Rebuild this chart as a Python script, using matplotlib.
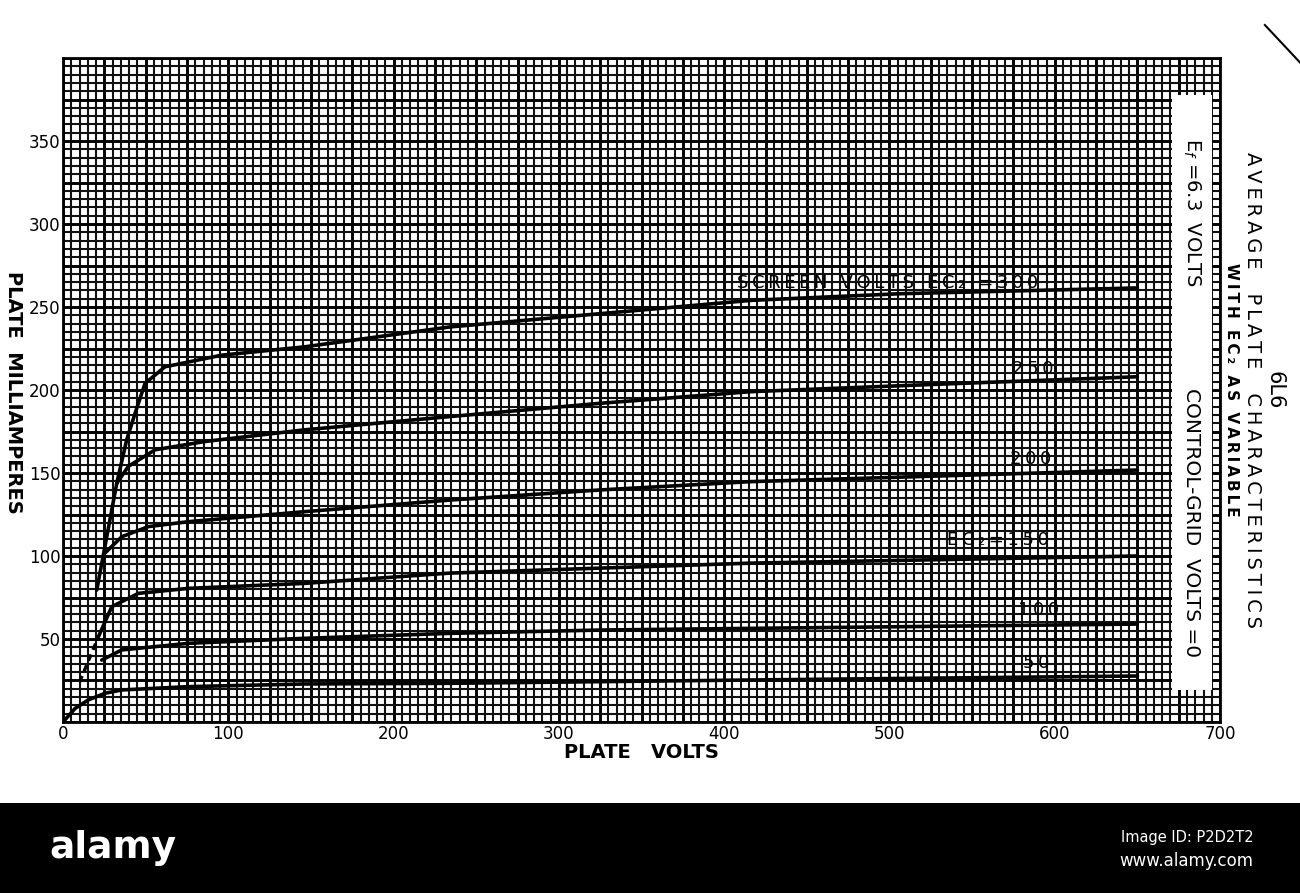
import matplotlib
matplotlib.use("Agg")
import matplotlib.pyplot as plt
from matplotlib.ticker import MultipleLocator, FuncFormatter
from matplotlib.patches import Rectangle
from matplotlib.lines import Line2D

# plate volts / plate mA, one pair of arrays per screen voltage
v_300 = [20.4, 32.5, 38.5, 43.6, 49.6, 61.7, 96, 146, 234, 325, 416, 506, 650]
i_300 = [79.5, 143.8, 170, 186, 204, 214, 221, 226, 238, 246, 254, 258, 261.5]

v_250 = [32.5, 39.5, 55.7, 86, 146, 234, 325, 416, 530, 650]
i_250 = [143.8, 154, 164, 169, 176, 184, 192, 199, 203.5, 208]

v_200 = [25.4, 35.5, 51.6, 76, 146, 234, 325, 416, 650]
i_200 = [101.8, 111.6, 117.7, 120.7, 126.7, 133.7, 139.8, 144.8, 151.8]

v_150 = [21.4, 29.5, 45.6, 75.8, 146, 234, 325, 416, 650]
i_150 = [51.4, 69.5, 77.5, 80.5, 83.5, 89.7, 92.7, 95.7, 100]
v_150_dash = [10, 21.4]
i_150_dash = [24, 51.4]

v_100 = [23.4, 35.5, 75.8, 146, 234, 325, 416, 650]
i_100 = [37.3, 43.4, 47.4, 50.4, 53.4, 55.4, 56.4, 59]

v_50 = [0, 7.3, 15.3, 25.4, 35.5, 75.8, 146, 234, 416, 650]
i_50 = [0, 8.2, 13.3, 17.3, 19.3, 21.3, 22.9, 23.3, 25.3, 27.7]

curves = [(v_300, i_300), (v_250, i_250), (v_200, i_200),
          (v_150, i_150), (v_100, i_100), (v_50, i_50)]

curve_labels = ["SCREEN VOLTS EC₂ =300", "250", "200", "EC₂=150", "100", "50"]
label_pos = [(408, 259), (574, 207), (573, 153), (535, 104), (578, 62), (581, 30)]

font = "DejaVu Sans"


def spaced(s):
    # hand lettering on the sheet is loosely spaced
    return "\u2009".join(s)


fig = plt.figure(figsize=(13, 8.93), dpi=100)
ax = fig.add_axes([0.0485, 0.1915, 0.89, 0.7435])

ax.set_xlim(0, 700)
ax.set_ylim(0, 400)

ax.xaxis.set_major_locator(MultipleLocator(25))
ax.xaxis.set_minor_locator(MultipleLocator(5))
ax.yaxis.set_major_locator(MultipleLocator(25))
ax.yaxis.set_minor_locator(MultipleLocator(5))
ax.xaxis.set_major_formatter(FuncFormatter(lambda v, p: f"{int(v)}" if v % 100 == 0 else ""))
ax.yaxis.set_major_formatter(FuncFormatter(
    lambda v, p: f"{int(v)}" if (v % 50 == 0 and 0 < v < 400) else ""))
ax.tick_params(which="both", length=0)
ax.tick_params(axis="both", which="major", labelsize=12, pad=2)
for t in ax.get_xticklabels() + ax.get_yticklabels():
    t.set_fontfamily(font)

ax.grid(which="minor", color="#111111", lw=1.5)
ax.grid(which="major", color="black", lw=2.1)
ax.set_axisbelow(True)
for s in ax.spines.values():
    s.set_linewidth(2)

# white panel inside the chart
ax.add_patch(Rectangle((671, 19), 24, 359, facecolor="white", edgecolor="none", zorder=3))
ax.text(683, 307, "E$_f$ =6.3  VOLTS", rotation=270, ha="center", va="center",
        fontsize=14, family=font, zorder=4)
ax.text(683, 120, "CONTROL-GRID  VOLTS =0", rotation=270, ha="center", va="center",
        fontsize=14.5, family=font, zorder=4)

for (v, i) in curves:
    ax.plot(v, i, color="black", lw=2.6, zorder=5, solid_capstyle="round")
ax.plot(v_150_dash, i_150_dash, color="black", lw=2.4, ls=(0, (2, 1.5)), zorder=5)

for txt, (x, y) in zip(curve_labels, label_pos):
    ax.text(x, y, spaced(txt), fontsize=13, family=font, ha="left", va="bottom", zorder=6)

ax.set_xlabel("PLATE   VOLTS", fontsize=14, fontweight="bold", family=font, labelpad=0)
fig.text(0.010, 0.561, "PLATE  MILLIAMPERES", rotation=270, ha="center", va="center",
         fontsize=14, fontweight="bold", family=font)

fig.text(0.9805, 0.563, "6L6", rotation=270, ha="center", va="center",
         fontsize=15, family=font)
fig.text(0.9632, 0.563, spaced("AVERAGE  PLATE  CHARACTERISTICS"), rotation=270,
         ha="center", va="center", fontsize=14, family=font)
fig.text(0.9472, 0.563, spaced("WITH EC₂ AS VARIABLE"), rotation=270,
         ha="center", va="center", fontsize=11, fontweight="bold", family=font)

fig.add_artist(Line2D([0.973, 1.0], [0.972, 0.93], color="black", lw=1.5))

# stock-photo footer band
fig.add_artist(Rectangle((0, 0), 1, 0.1008, transform=fig.transFigure,
                         facecolor="black", edgecolor="none"))
fig.text(0.038, 0.05, "alamy", color="white", fontsize=27, fontweight="bold",
         family=font, ha="left", va="center")
fig.text(0.964, 0.062, "Image ID: P2D2T2", color="white", fontsize=10.5,
         family=font, ha="right", va="center")
fig.text(0.964, 0.036, "www.alamy.com", color="white", fontsize=12,
         family=font, ha="right", va="center")

fig.savefig("out.png", dpi=100, facecolor="white")
